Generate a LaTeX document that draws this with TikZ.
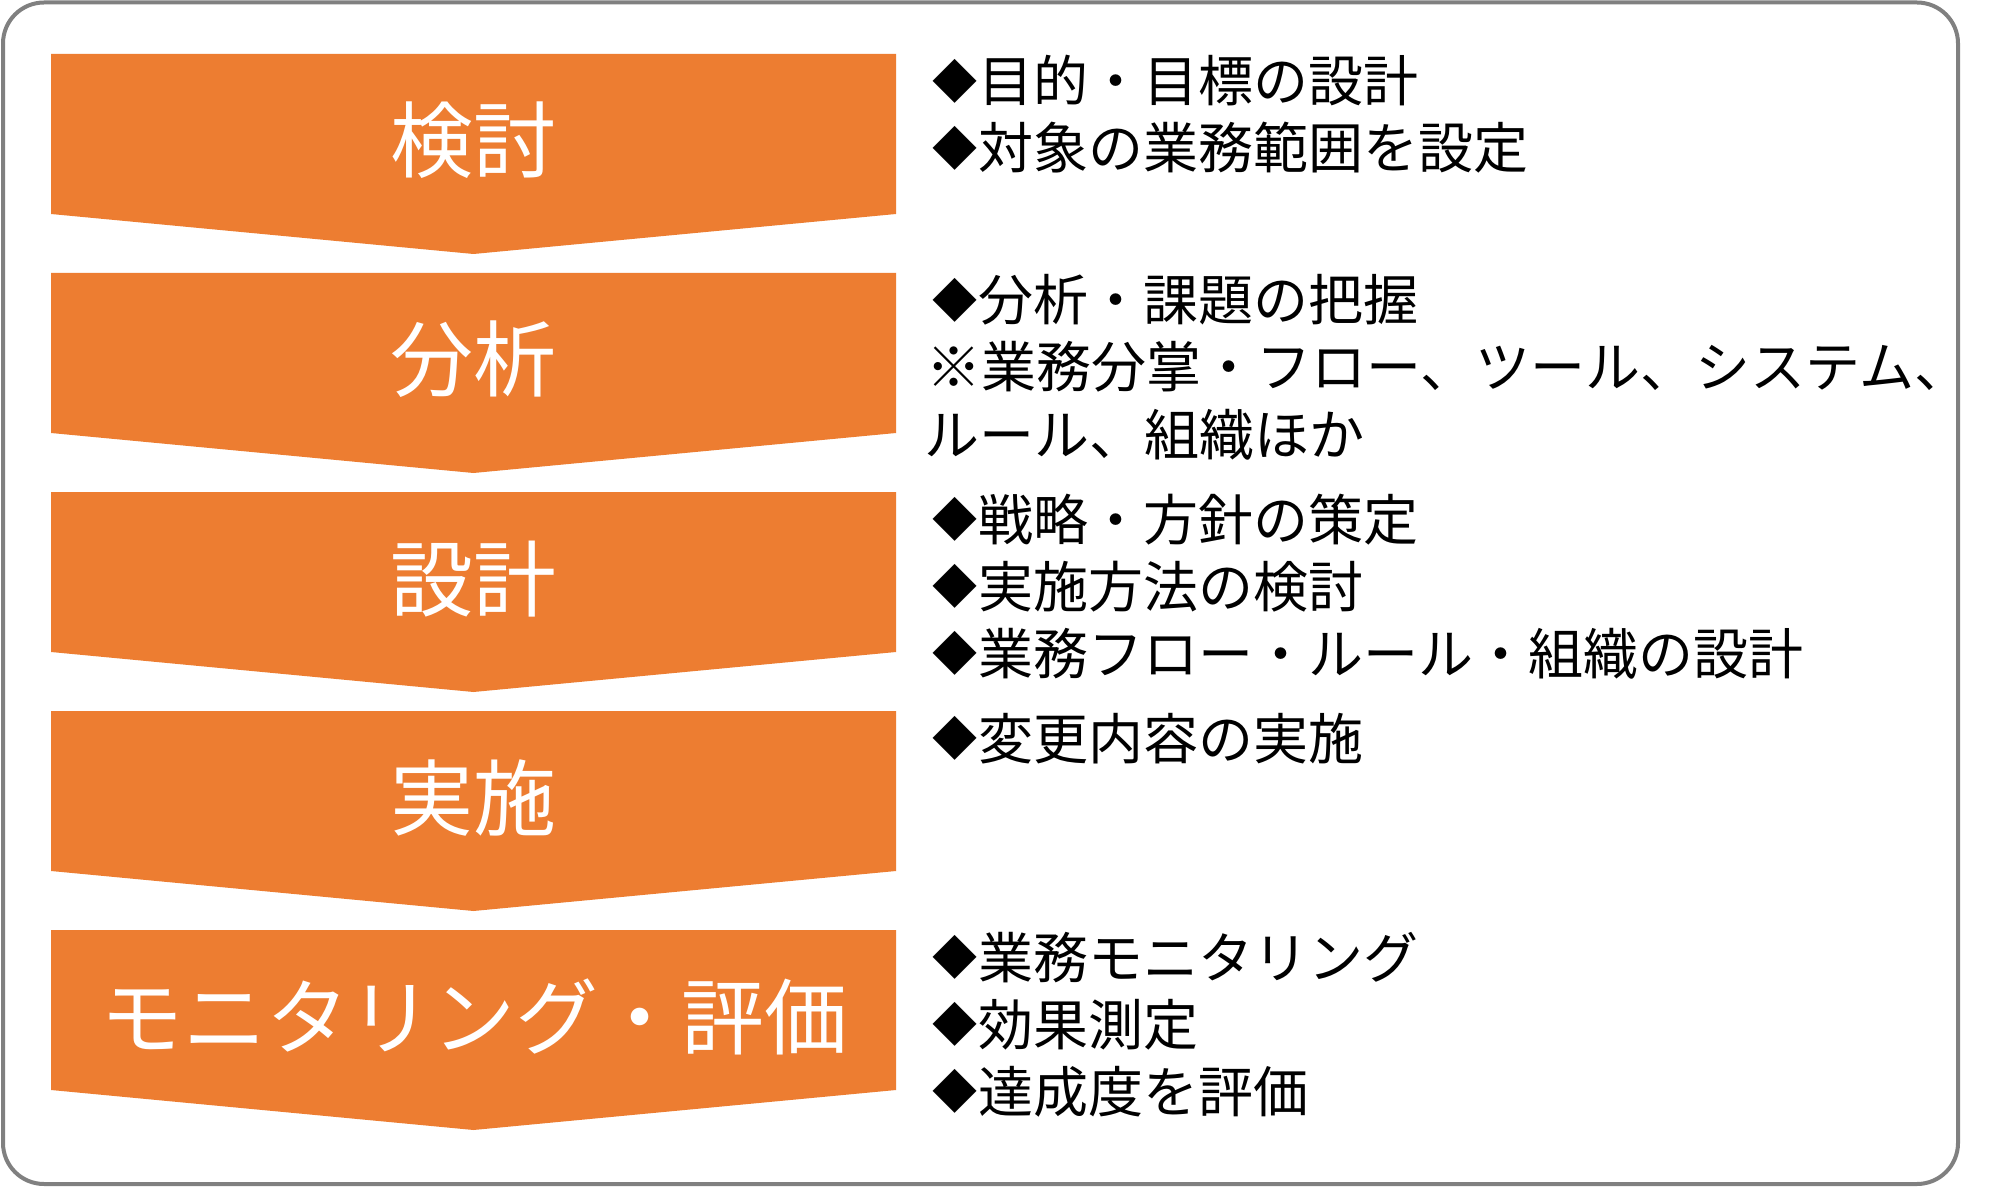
\documentclass[tikz,border=0pt]{standalone}
\usepackage{fontspec}
\setmainfont{Noto Sans CJK JP}
\newfontfamily\jpfont{Noto Sans CJK JP}
\newcommand\steplabelfont{\jpfont\fontsize{41.5}{41.5}\selectfont}
\newcommand\itemtextfont{\jpfont\fontsize{27.5}{27.5}\selectfont}
\newcommand\dia{\makebox[23pt][l]{\raisebox{1.8pt}{\scalebox{0.82}{◆}}}}
\definecolor{accent}{HTML}{ED7D31}
\definecolor{framegray}{HTML}{808080}
\tikzset{
  chev/.style={fill=accent, draw=none},
  steplabel/.style={text=white, font=\steplabelfont, anchor=base, inner sep=0pt},
  itemline/.style={text=black, font=\itemtextfont, anchor=base west, inner sep=0pt},
  frame/.style={draw=framegray, line width=2pt, rounded corners=20.5pt, fill=white},
}
\newcommand\chevron[1]{\path[chev] (51,#1) -- (896,#1) -- (896,#1+160) -- (473.5,#1+200) -- (51,#1+160) -- cycle;}
\begin{document}
\begin{tikzpicture}[x=0.5pt,y=-0.5pt]
\useasboundingbox (0,0) rectangle (2002,1187);
\draw[frame] (3,2.5) rectangle (1958,1184);
% chevrons
\chevron{54}
\chevron{273}
\chevron{492}
\chevron{711}
\chevron{930}
% step labels
\node[steplabel] (s1) at (473.5,172) {検討};
\node[steplabel] (s2) at (473.5,391) {分析};
\node[steplabel] (s3) at (473.5,610) {設計};
\node[steplabel] (s4) at (473.5,829) {実施};
\node[steplabel] (s5) at (473.5,1048) {モニタリング・評価};
% items
\node[itemline] (a1) at (932,102) {\dia 目的・目標の設計};
\node[itemline] (a2) at (932,169) {\dia 対象の業務範囲を設定};
\node[itemline] (b1) at (932,321) {\dia 分析・課題の把握};
\node[itemline] (b2) at (926,388) {※業務分掌・フロー、ツール、システム、};
\node[itemline] (b3) at (924,455) {ルール、組織ほか};
\node[itemline] (c1) at (932,540) {\dia 戦略・方針の策定};
\node[itemline] (c2) at (932,607) {\dia 実施方法の検討};
\node[itemline] (c3) at (932,674) {\dia 業務フロー・ルール・組織の設計};
\node[itemline] (d1) at (932,759) {\dia 変更内容の実施};
\node[itemline] (e1) at (932,978) {\dia 業務モニタリング};
\node[itemline] (e2) at (932,1045) {\dia 効果測定};
\node[itemline] (e3) at (932,1112) {\dia 達成度を評価};
\end{tikzpicture}
\end{document}
